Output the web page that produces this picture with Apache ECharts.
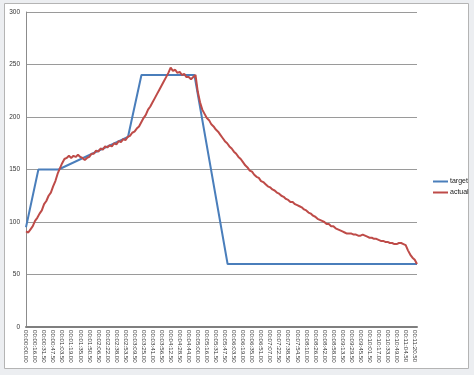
<!DOCTYPE html>
<html>
<head>
<meta charset="utf-8">
<script src="https://cdn.jsdelivr.net/npm/echarts@6/dist/echarts.min.js"></script>
<style>
html,body{margin:0;padding:0;background:#eceef1;}
#chart{position:absolute;left:0;top:0;width:474px;height:375px;}
</style>
</head>
<body>
<div id="chart"></div>
<script>
// tick labels of the category (time) axis
const timeLabels = ["00:00:00.00","00:00:16.00","00:00:31.50","00:00:47.50","00:01:03.50","00:01:19.00","00:01:35.00","00:01:50.50","00:02:06.50","00:02:22.00","00:02:38.00","00:02:53.50","00:03:09.50","00:03:25.00","00:03:41.00","00:03:56.50","00:04:12.50","00:04:28.50","00:04:44.00","00:05:00.00","00:05:16.00","00:05:31.50","00:05:47.50","00:06:03.50","00:06:19.00","00:06:35.00","00:06:51.00","00:07:07.00","00:07:22.50","00:07:38.50","00:07:54.50","00:08:10.00","00:08:26.00","00:08:42.00","00:08:58.00","00:09:13.50","00:09:29.50","00:09:45.50","00:10:01.50","00:10:17.00","00:10:33.00","00:10:49.00","00:11:04.50","00:11:20.50"];
const axisEnd = 43.25; // position of last sample, in label units

// target series: breakpoints (position in label units, value)
const targetPos = [0, 1.37, 3.6, 11.28, 12.77, 18.63, 22.3, 43.25];
const targetVal = [95, 150, 150, 181, 240, 240, 60, 60];

// actual series: one reading every quarter label unit
const actualStep = 0.25;
const actualVal = [
 91,90,93,96,101,104,108,111,
 117,120,125,128,134,139,146,151,
 156,160,161,163,161,163,162,164,
 162,161,159,161,162,165,165,168,
 167,170,169,172,171,173,172,175,
 174,177,176,179,178,181,182,185,
 186,189,191,195,199,202,207,210,
 214,218,222,226,230,234,238,242,
 247,244,245,242,243,240,241,238,
 238,236,238,240,224,214,207,203,
 199,197,193,191,188,186,183,180,
 177,175,172,170,167,165,162,160,
 157,154,152,149,148,145,143,142,
 139,138,136,134,133,131,130,128,
 127,125,124,122,121,119,119,117,
 116,115,114,112,111,109,108,106,
 105,103,102,101,100,98,98,96,
 96,94,93,92,91,90,89,89,
 89,88,88,87,87,88,87,86,
 85,85,84,84,83,82,82,81,
 81,80,80,79,79,80,80,79,
 78,73,69,66,64,60
];
const yTicks = {min: 0, max: 300, step: 50};

const targetData = targetPos.map((p, i) => [p, targetVal[i]]);
const actualData = actualVal.map((v, i) => [i * actualStep, v]);

const font = '"Liberation Sans", Arial, sans-serif';
const chart = echarts.init(document.getElementById('chart'), null, {renderer: 'canvas'});
chart.setOption({
  animation: false,
  backgroundColor: 'transparent',
  graphic: [{
    type: 'rect', z: -10, silent: true,
    shape: {x: 4.5, y: 3.5, width: 464, height: 365},
    style: {fill: '#ffffff', stroke: '#b4b4b4', lineWidth: 1}
  }],
  grid: {left: 26, right: 57, top: 12, bottom: 48, containLabel: false},
  legend: {
    orient: 'vertical', left: 428, top: 173,
    itemWidth: 15, itemHeight: 2, itemGap: 4, icon: 'rect',
    textStyle: {fontSize: 7, color: '#222', fontFamily: font, padding: [0, 0, 0, -3]},
    data: ['target', 'actual']
  },
  xAxis: {
    type: 'value', min: 0, max: axisEnd, interval: 1,
    axisLine: {show: true, onZero: false, lineStyle: {color: '#7f7f7f', width: 2}},
    axisTick: {show: false},
    splitLine: {show: false},
    axisLabel: {
      rotate: -90, fontSize: 6.2, color: '#333', fontFamily: font, margin: 3,
      showMaxLabel: false,
      formatter: function (v) {
        const r = Math.round(v);
        return Math.abs(v - r) < 1e-6 && timeLabels[r] !== undefined ? timeLabels[r] : '';
      }
    }
  },
  yAxis: {
    type: 'value', min: yTicks.min, max: yTicks.max, interval: yTicks.step,
    axisLine: {show: true, lineStyle: {color: '#8c8c8c', width: 1}},
    axisTick: {show: false},
    splitLine: {show: true, lineStyle: {color: '#9a9a9a', width: 1}},
    axisLabel: {fontSize: 6.5, color: '#333', fontFamily: font, margin: 6}
  },
  series: [
    {name: 'target', type: 'line', data: targetData, showSymbol: false,
     lineStyle: {color: '#4a7ebb', width: 2}, itemStyle: {color: '#4a7ebb'}},
    {name: 'actual', type: 'line', data: actualData, showSymbol: false,
     lineStyle: {color: '#be4b48', width: 2}, itemStyle: {color: '#be4b48'}}
  ]
});
</script>
</body>
</html>
